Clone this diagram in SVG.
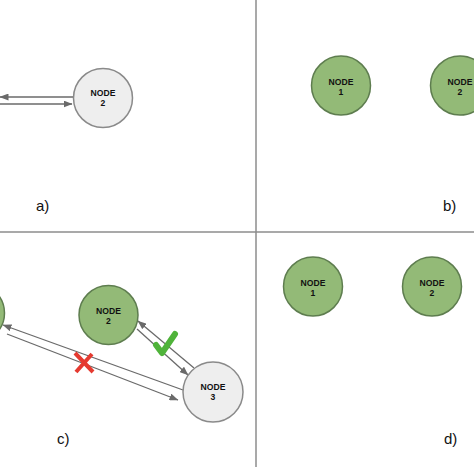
<svg xmlns="http://www.w3.org/2000/svg" width="474" height="474" viewBox="0 0 474 474">
<style>
.g{fill:#93ba77;stroke:#5e7d4f;stroke-width:1.5}
.w{fill:#eeeeee;stroke:#8a8a8a;stroke-width:1.5}
.t{font-family:"Liberation Sans",Arial,sans-serif;font-weight:bold;font-size:8.6px;fill:#111;text-anchor:middle}
.lbl{font-family:"Liberation Sans",Arial,sans-serif;font-size:15px;fill:#111}
.c{stroke:#6a6a6a;stroke-width:1.3;fill:none;marker-end:url(#ah)}
.div{stroke:#8c8c8c;stroke-width:1.5}
</style>
<defs>
<marker id="ah" markerWidth="9" markerHeight="7" refX="8.5" refY="3.5" orient="auto" markerUnits="userSpaceOnUse">
<path d="M0,0 L9,3.5 L0,7 Z" fill="#6a6a6a"/>
</marker>
</defs>
<g id="dividers">
<line class="div" x1="256" y1="0" x2="256" y2="467"/>
<line class="div" x1="0" y1="232" x2="474" y2="232"/>
</g>
<g id="connectors">
<line class="c" x1="73" y1="97" x2="0" y2="97"/>
<line class="c" x1="0" y1="104" x2="72" y2="104"/>
<line class="c" x1="183" y1="390" x2="3" y2="325"/>
<line class="c" x1="7" y1="334" x2="178" y2="400"/>
<line class="c" x1="194" y1="368" x2="138" y2="321"/>
<line class="c" x1="137" y1="329" x2="188" y2="375"/>
</g>
<g id="a-node2"><circle class="w" cx="103" cy="98" r="29.5"/><text class="t" x="103" y="96">NODE</text><text class="t" x="103" y="106">2</text></g>
<g id="b-node1"><circle class="g" cx="341" cy="85.5" r="29.5"/><text class="t" x="341" y="85">NODE</text><text class="t" x="341" y="95">1</text></g>
<g id="b-node2"><circle class="g" cx="460" cy="85.5" r="29.5"/><text class="t" x="460" y="85">NODE</text><text class="t" x="460" y="95">2</text></g>
<g id="c-node1"><circle class="g" cx="-25" cy="313" r="29.5"/></g>
<g id="c-node2"><circle class="g" cx="108.5" cy="315" r="29.5"/><text class="t" x="108.5" y="314">NODE</text><text class="t" x="108.5" y="324">2</text></g>
<g id="c-node3"><circle class="w" cx="213" cy="392" r="30"/><text class="t" x="213" y="390">NODE</text><text class="t" x="213" y="400">3</text></g>
<g id="d-node1"><circle class="g" cx="313" cy="286.5" r="29.5"/><text class="t" x="313" y="286">NODE</text><text class="t" x="313" y="296">1</text></g>
<g id="d-node2"><circle class="g" cx="432" cy="286.5" r="29.5"/><text class="t" x="432" y="286">NODE</text><text class="t" x="432" y="296">2</text></g>
<g id="cross"><path d="M75,353 L93,372 M92,354 L76,372" stroke="#e53a30" stroke-width="4" fill="none"/></g>
<g id="check"><path d="M156,345 L162,353 L175,334" stroke="#4fb33a" stroke-width="6" fill="none" stroke-linecap="round" stroke-linejoin="round"/></g>
<text class="lbl" x="36" y="211">a)</text>
<text class="lbl" x="443" y="211">b)</text>
<text class="lbl" x="57" y="444">c)</text>
<text class="lbl" x="444" y="444">d)</text>
</svg>
